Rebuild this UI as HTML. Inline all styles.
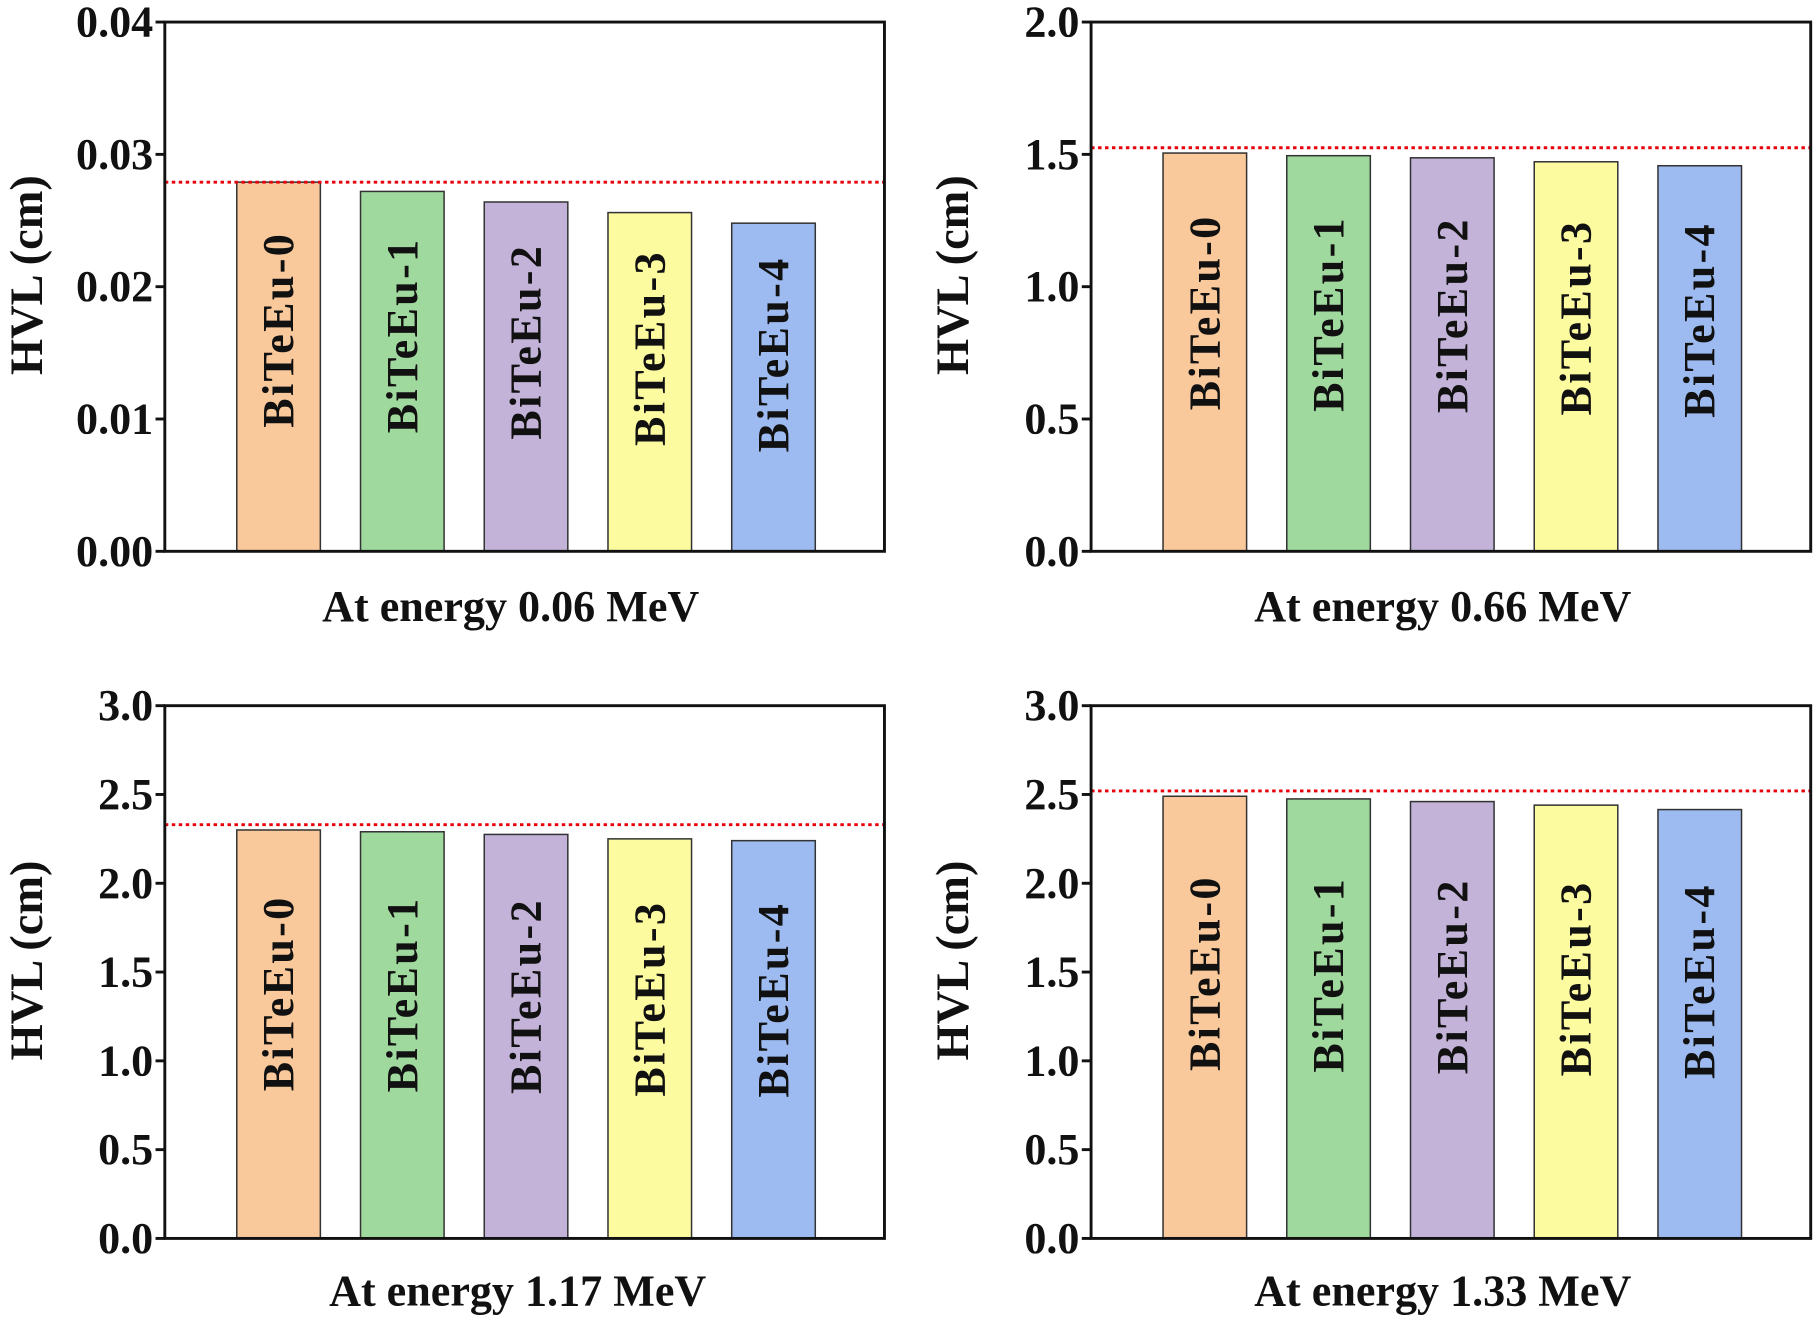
<!DOCTYPE html>
<html><head><meta charset="utf-8"><style>
html,body{margin:0;padding:0;background:#fff;}
svg{display:block;}
text{font-family:"Liberation Serif",serif;font-weight:bold;fill:#111;}
</style></head><body>
<svg id="chart" width="1820" height="1322" viewBox="0 0 1568 1139" preserveAspectRatio="none" xmlns="http://www.w3.org/2000/svg"></svg>
<script>
const categories = ["BiTeEu-0","BiTeEu-1","BiTeEu-2","BiTeEu-3","BiTeEu-4"];
const colors = ["#F9C89B","#A0D99E","#C3B3D9","#FDFBA0","#9DBBF0"];
const values006 = [0.0279,0.0272,0.0264,0.0256,0.0248];
const values066 = [1.505,1.495,1.487,1.472,1.457];
const values117 = [2.30,2.29,2.275,2.25,2.24];
const values133 = [2.49,2.475,2.46,2.44,2.415];
const refLines = [0.0279,1.525,2.33,2.52];
const ticks006 = ["0.00","0.01","0.02","0.03","0.04"];
const ticks066 = ["0.0","0.5","1.0","1.5","2.0"];
const ticks117 = ["0.0","0.5","1.0","1.5","2.0","2.5","3.0"];
const ticks133 = ["0.0","0.5","1.0","1.5","2.0","2.5","3.0"];
const titles = ["At energy 0.06 MeV","At energy 0.66 MeV","At energy 1.17 MeV","At energy 1.33 MeV"];

const svg = document.getElementById('chart');
const NS = "http://www.w3.org/2000/svg";
function mk(tag, attrs, parent){
  const e = document.createElementNS(NS, tag);
  for (const k in attrs) e.setAttribute(k, attrs[k]);
  (parent||svg).appendChild(e);
  return e;
}
const panels = [
  {x0:142,x1:762,y0:19,y1:475,vals:values006,ticks:ticks006,tx:440,ty:535,name:'panel-006'},
  {x0:940,x1:1560,y0:19,y1:475,vals:values066,ticks:ticks066,tx:1243,ty:535,name:'panel-066'},
  {x0:142,x1:762,y0:608,y1:1067,vals:values117,ticks:ticks117,tx:446,ty:1125,name:'panel-117'},
  {x0:940,x1:1560,y0:608,y1:1067,vals:values133,ticks:ticks133,tx:1243,ty:1125,name:'panel-133'}
];
panels.forEach((p,pi)=>{
  const g = mk('g',{});
  
  
  const tmin = parseFloat(p.ticks[0]), tmax = parseFloat(p.ticks[p.ticks.length-1]);
  const y = v => p.y1 - (v - tmin)/(tmax - tmin)*(p.y1 - p.y0);
  const bw = 72, step = 106.6, c0 = p.x0 + 98;
  p.vals.forEach((v,i)=>{
    const cx = c0 + i*step;
    const r = mk('rect',{x:cx-bw/2,y:y(v),width:bw,height:p.y1-y(v),fill:colors[i],stroke:'#333','stroke-width':1.3},g);
    
    
    const ly = y(v*0.6);
    const t = mk('text',{x:cx,y:ly,transform:`rotate(-90 ${cx} ${ly})`,'text-anchor':'middle','dominant-baseline':'central','font-size':38,'letter-spacing':2},g);
    t.textContent = categories[i];
    
    
  });
  const rl = mk('line',{x1:p.x0,x2:p.x1,y1:y(refLines[pi]),y2:y(refLines[pi]),stroke:'#e8000b','stroke-width':2.5,'stroke-dasharray':'3 3'},g);
  
  
  const fr = mk('rect',{x:p.x0,y:p.y0,width:p.x1-p.x0,height:p.y1-p.y0,fill:'none',stroke:'#111','stroke-width':2.5},g);
  
  
  p.ticks.forEach(tl=>{
    const v = parseFloat(tl), yy = y(v);
    mk('line',{x1:p.x0-8,x2:p.x0,y1:yy,y2:yy,stroke:'#111','stroke-width':2.5},g);
    const t = mk('text',{x:p.x0-10,y:yy,'text-anchor':'end','dominant-baseline':'central','font-size':38},g);
    t.textContent = tl;
    
    
  });
  const ax = p.x0 - 106, ay = (p.y0+p.y1)/2 - 10;
  const yt = mk('text',{x:ax,y:ay,transform:`rotate(-90 ${ax} ${ay})`,'text-anchor':'middle','font-size':40},g);
  yt.textContent = 'HVL (cm)';
  
  
  const xt = mk('text',{x:p.tx,y:p.ty,'text-anchor':'middle','font-size':38},g);
  xt.textContent = titles[pi];
  
  
});
</script>
</body></html>
